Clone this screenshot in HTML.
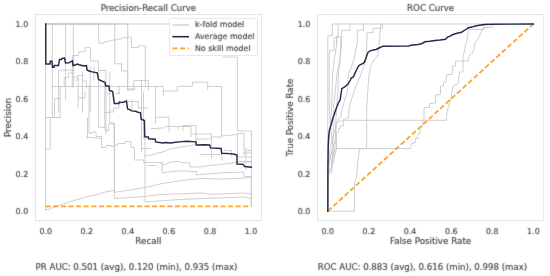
<!DOCTYPE html>
<html><head><meta charset="utf-8"><title>PR and ROC curves</title>
<style>html,body{margin:0;padding:0;background:#fff;width:550px;height:276px;overflow:hidden}svg{display:block}</style>
</head><body>
<svg width="550" height="276" viewBox="0 0 550 276" font-family="'DejaVu Sans', 'Liberation Sans', sans-serif"><defs><filter id="soft" x="0" y="0" width="550" height="276" filterUnits="userSpaceOnUse"><feConvolveMatrix order="3" kernelMatrix="0.02 0.08 0.02 0.08 0.60 0.08 0.02 0.08 0.02" edgeMode="duplicate" preserveAlpha="false"/></filter></defs><rect x="0" y="0" width="550" height="276" fill="#ffffff"/>
<polyline points="45.7,24.0 223.7,24.0 223.7,57.1 237.4,57.1 237.4,131.0 251.4,131.0 251.4,206.3" fill="none" stroke="#cacaca" stroke-width="0.9" stroke-linejoin="miter" stroke-linecap="square" />
<polyline points="45.7,24.0 45.7,210.5 46.0,209.5 50.0,209.3 53.0,207.5 55.0,206.8 58.0,206.0 60.0,205.0 63.0,204.0 66.0,203.0 69.0,202.0 72.0,201.2 74.0,200.2 78.0,199.5 81.0,198.5 84.0,197.8 87.0,196.8 90.0,196.0 93.0,195.5 97.0,194.5 105.0,192.0 114.3,190.3 114.3,192.3 130.0,190.0 145.0,187.5 150.0,186.5 160.0,184.0 175.0,181.5 185.0,180.0 203.0,178.5 220.0,179.0 245.0,178.0 251.4,177.5 251.4,206.3" fill="none" stroke="#cacaca" stroke-width="0.9" stroke-linejoin="miter" stroke-linecap="square" />
<polyline points="45.7,24.0 98.6,24.0 98.6,43.2 103.6,43.2 104.2,41.8 108.0,41.8 108.5,40.8 112.5,40.8 113.0,39.8 117.6,39.8 118.2,38.8 122.8,38.8 123.3,37.6 127.5,37.6 127.8,37.1 131.4,37.1 131.4,47.5 138.4,47.5 138.4,45.8 145.4,45.8 145.4,86.5 163.4,86.5 163.4,90.9 177.4,90.9 177.4,86.3 192.4,86.3 192.4,82.2 207.7,82.2 207.7,86.5 221.7,86.5 221.7,136.0 237.4,134.5 237.4,157.0 251.4,157.0" fill="none" stroke="#cacaca" stroke-width="0.9" stroke-linejoin="miter" stroke-linecap="square" />
<polyline points="45.7,24.0 114.8,24.0 114.8,63.8 121.5,63.8 121.5,71.0 127.6,71.0" fill="none" stroke="#cacaca" stroke-width="0.9" stroke-linejoin="miter" stroke-linecap="square" />
<polyline points="45.7,24.0 127.7,24.0 127.7,90.0 133.8,90.0 133.8,80.5 148.5,80.5 148.5,90.0" fill="none" stroke="#cacaca" stroke-width="0.9" stroke-linejoin="miter" stroke-linecap="square" />
<polyline points="45.7,24.0 52.3,24.0 52.3,117.5 45.7,117.5" fill="none" stroke="#cacaca" stroke-width="0.9" stroke-linejoin="miter" stroke-linecap="square" />
<polyline points="50.2,117.5 50.2,149.0 45.7,149.0" fill="none" stroke="#cacaca" stroke-width="0.9" stroke-linejoin="miter" stroke-linecap="square" />
<polyline points="45.7,24.0 65.6,24.0 65.6,99.0" fill="none" stroke="#cacaca" stroke-width="0.9" stroke-linejoin="miter" stroke-linecap="square" />
<polyline points="45.7,24.0 73.4,24.0 73.4,86.5 52.3,86.5" fill="none" stroke="#cacaca" stroke-width="0.9" stroke-linejoin="miter" stroke-linecap="square" />
<polyline points="73.4,86.5 90.0,86.5" fill="none" stroke="#cacaca" stroke-width="0.9" stroke-linejoin="miter" stroke-linecap="square" />
<polyline points="58.6,112.0 58.6,70.2 73.1,70.2" fill="none" stroke="#cacaca" stroke-width="0.9" stroke-linejoin="miter" stroke-linecap="square" />
<polyline points="64.2,86.5 64.2,77.5 68.5,77.5 68.5,73.0 74.0,73.0" fill="none" stroke="#cacaca" stroke-width="0.9" stroke-linejoin="miter" stroke-linecap="square" />
<polyline points="72.0,77.0 78.0,77.0 78.0,80.0 75.0,80.0" fill="none" stroke="#cacaca" stroke-width="0.9" stroke-linejoin="miter" stroke-linecap="square" />
<polyline points="77.5,75.5 83.0,75.5" fill="none" stroke="#cacaca" stroke-width="0.9" stroke-linejoin="miter" stroke-linecap="square" />
<polyline points="82.5,72.0 82.5,112.0" fill="none" stroke="#cacaca" stroke-width="0.9" stroke-linejoin="miter" stroke-linecap="square" />
<polyline points="83.0,81.0 86.5,81.0 86.5,88.0" fill="none" stroke="#cacaca" stroke-width="0.9" stroke-linejoin="miter" stroke-linecap="square" />
<polyline points="89.0,85.0 89.0,133.3 92.0,133.3 92.0,132.0 96.0,132.0 96.0,136.5 101.5,136.5" fill="none" stroke="#cacaca" stroke-width="0.9" stroke-linejoin="miter" stroke-linecap="square" />
<polyline points="87.5,118.0 87.5,138.0" fill="none" stroke="#cacaca" stroke-width="0.9" stroke-linejoin="miter" stroke-linecap="square" />
<polyline points="90.3,67.0 90.3,112.0" fill="none" stroke="#cacaca" stroke-width="0.9" stroke-linejoin="miter" stroke-linecap="square" />
<polyline points="94.0,67.4 94.0,80.0" fill="none" stroke="#cacaca" stroke-width="0.9" stroke-linejoin="miter" stroke-linecap="square" />
<polyline points="54.5,117.5 54.5,98.5 60.0,98.5" fill="none" stroke="#cacaca" stroke-width="0.9" stroke-linejoin="miter" stroke-linecap="square" />
<polyline points="52.3,117.5 60.0,117.5" fill="none" stroke="#cacaca" stroke-width="0.9" stroke-linejoin="miter" stroke-linecap="square" />
<polyline points="60.0,86.5 60.0,117.5" fill="none" stroke="#cacaca" stroke-width="0.9" stroke-linejoin="miter" stroke-linecap="square" />
<polyline points="78.2,77.0 78.2,107.0" fill="none" stroke="#cacaca" stroke-width="0.9" stroke-linejoin="miter" stroke-linecap="square" />
<polyline points="78.5,98.0 85.0,98.0 85.0,92.0" fill="none" stroke="#cacaca" stroke-width="0.9" stroke-linejoin="miter" stroke-linecap="square" />
<polyline points="72.3,88.0 72.3,55.5 78.6,55.5 78.6,51.8 85.0,51.8 85.0,47.6 90.5,47.6 90.5,61.0 98.6,61.0 98.6,127.3 105.3,127.3 105.3,130.6 108.6,130.6 108.6,124.0 114.1,124.0 114.1,150.0" fill="none" stroke="#cacaca" stroke-width="0.9" stroke-linejoin="miter" stroke-linecap="square" />
<polyline points="98.5,70.5 106.0,70.5 106.0,134.0" fill="none" stroke="#cacaca" stroke-width="0.9" stroke-linejoin="miter" stroke-linecap="square" />
<polyline points="104.7,80.0 104.7,127.0" fill="none" stroke="#cacaca" stroke-width="0.9" stroke-linejoin="miter" stroke-linecap="square" />
<polyline points="90.0,86.5 147.0,86.5" fill="none" stroke="#cacaca" stroke-width="0.9" stroke-linejoin="miter" stroke-linecap="square" />
<polyline points="127.6,71.0 127.6,90.0" fill="none" stroke="#cacaca" stroke-width="0.9" stroke-linejoin="miter" stroke-linecap="square" />
<polyline points="141.5,80.5 141.5,151.5" fill="none" stroke="#cacaca" stroke-width="0.9" stroke-linejoin="miter" stroke-linecap="square" />
<polyline points="119.0,86.5 119.0,94.0" fill="none" stroke="#cacaca" stroke-width="0.9" stroke-linejoin="miter" stroke-linecap="square" />
<polyline points="128.0,89.0 135.0,89.0" fill="none" stroke="#cacaca" stroke-width="0.9" stroke-linejoin="miter" stroke-linecap="square" />
<polyline points="109.8,72.0 109.8,123.0 114.5,123.0 114.5,190.0" fill="none" stroke="#cacaca" stroke-width="0.9" stroke-linejoin="miter" stroke-linecap="square" />
<polyline points="105.0,94.0 109.5,94.0" fill="none" stroke="#cacaca" stroke-width="0.9" stroke-linejoin="miter" stroke-linecap="square" />
<polyline points="116.0,93.5 119.5,93.5 119.5,92.0" fill="none" stroke="#cacaca" stroke-width="0.9" stroke-linejoin="miter" stroke-linecap="square" />
<polyline points="109.8,112.0 113.5,112.0 113.5,108.0 119.0,108.0 119.0,102.5" fill="none" stroke="#cacaca" stroke-width="0.9" stroke-linejoin="miter" stroke-linecap="square" />
<polyline points="105.0,112.5 109.8,112.5" fill="none" stroke="#cacaca" stroke-width="0.9" stroke-linejoin="miter" stroke-linecap="square" />
<polyline points="132.0,100.0 132.0,110.0" fill="none" stroke="#cacaca" stroke-width="0.9" stroke-linejoin="miter" stroke-linecap="square" />
<polyline points="128.0,101.5 138.3,101.5 138.3,108.0 147.0,108.0" fill="none" stroke="#cacaca" stroke-width="0.9" stroke-linejoin="miter" stroke-linecap="square" />
<polyline points="143.5,92.0 143.5,138.0" fill="none" stroke="#cacaca" stroke-width="0.9" stroke-linejoin="miter" stroke-linecap="square" />
<polyline points="101.5,138.0 101.5,147.5 106.0,147.5 106.0,145.5 111.0,145.5 111.0,146.5 115.0,146.5 115.0,145.0 118.0,145.0 118.0,143.5 125.0,143.5 125.0,141.5 131.0,141.5 131.0,147.5 134.5,147.5 134.5,160.0 143.5,160.0 143.5,162.5 162.0,162.5 162.0,164.5 166.0,164.5 168.0,163.0 172.0,162.0 176.0,161.5 180.0,161.5 181.0,162.5 190.0,163.0 190.0,167.0 200.0,167.0 210.0,165.5 220.0,164.5 233.0,163.0 238.0,161.5 251.4,162.0" fill="none" stroke="#cacaca" stroke-width="0.9" stroke-linejoin="miter" stroke-linecap="square" />
<polyline points="162.0,162.5 162.0,173.0 176.0,171.0 190.0,171.0 190.0,171.5 196.5,171.5 196.5,175.0 200.0,174.5 220.0,173.0 244.0,172.0 244.0,176.5 251.4,176.5" fill="none" stroke="#cacaca" stroke-width="0.9" stroke-linejoin="miter" stroke-linecap="square" />
<polyline points="148.0,165.5 155.5,165.5" fill="none" stroke="#cacaca" stroke-width="0.9" stroke-linejoin="miter" stroke-linecap="square" />
<polyline points="145.0,138.0 145.0,202.0 165.0,200.5 180.0,199.5 203.0,198.5 220.0,198.0 245.0,197.0 251.4,198.5 251.4,206.3" fill="none" stroke="#cacaca" stroke-width="0.9" stroke-linejoin="miter" stroke-linecap="square" />
<polyline points="114.3,150.0 114.3,198.5 130.0,197.5 145.0,196.5 160.0,194.5 190.0,193.5 203.0,193.0 210.0,194.3 245.0,193.0 251.4,194.0" fill="none" stroke="#cacaca" stroke-width="0.9" stroke-linejoin="miter" stroke-linecap="square" />
<polyline points="141.5,148.5 150.0,148.5" fill="none" stroke="#cacaca" stroke-width="0.9" stroke-linejoin="miter" stroke-linecap="square" />
<polyline points="145.0,155.5 152.0,155.0 156.0,153.3 162.5,152.2 168.7,149.5 175.0,148.0 181.0,147.0 189.5,145.6 196.8,144.6" fill="none" stroke="#cacaca" stroke-width="0.9" stroke-linejoin="miter" stroke-linecap="square" />
<polyline points="155.5,86.5 155.5,123.3" fill="none" stroke="#cacaca" stroke-width="0.9" stroke-linejoin="miter" stroke-linecap="square" />
<polyline points="155.3,117.3 169.0,117.3 169.0,131.0" fill="none" stroke="#cacaca" stroke-width="0.9" stroke-linejoin="miter" stroke-linecap="square" />
<polyline points="151.0,128.5 158.5,128.5 158.5,130.0" fill="none" stroke="#cacaca" stroke-width="0.9" stroke-linejoin="miter" stroke-linecap="square" />
<polyline points="158.5,128.0 164.0,128.0 165.5,126.5 191.0,126.5 191.0,136.5" fill="none" stroke="#cacaca" stroke-width="0.9" stroke-linejoin="miter" stroke-linecap="square" />
<polyline points="182.5,125.5 196.0,125.5 196.0,145.0" fill="none" stroke="#cacaca" stroke-width="0.9" stroke-linejoin="miter" stroke-linecap="square" />
<polyline points="178.0,126.5 178.0,129.5" fill="none" stroke="#cacaca" stroke-width="0.9" stroke-linejoin="miter" stroke-linecap="square" />
<polyline points="183.0,125.5 183.0,130.0" fill="none" stroke="#cacaca" stroke-width="0.9" stroke-linejoin="miter" stroke-linecap="square" />
<polyline points="192.0,134.0 211.5,134.0 211.5,157.5" fill="none" stroke="#cacaca" stroke-width="0.9" stroke-linejoin="miter" stroke-linecap="square" />
<polyline points="196.0,139.0 211.5,139.0" fill="none" stroke="#cacaca" stroke-width="0.9" stroke-linejoin="miter" stroke-linecap="square" />
<polyline points="211.0,137.0 221.7,137.0" fill="none" stroke="#cacaca" stroke-width="0.9" stroke-linejoin="miter" stroke-linecap="square" />
<polyline points="200.0,154.5 222.0,154.5 222.0,160.0" fill="none" stroke="#cacaca" stroke-width="0.9" stroke-linejoin="miter" stroke-linecap="square" />
<polyline points="224.0,150.5 231.5,150.5 231.5,156.0" fill="none" stroke="#cacaca" stroke-width="0.9" stroke-linejoin="miter" stroke-linecap="square" />
<polyline points="237.4,133.5 244.0,133.5 244.0,155.0" fill="none" stroke="#cacaca" stroke-width="0.9" stroke-linejoin="miter" stroke-linecap="square" />
<polyline points="246.0,148.0 246.0,170.0" fill="none" stroke="#cacaca" stroke-width="0.9" stroke-linejoin="miter" stroke-linecap="square" />
<polyline points="246.0,150.5 251.4,150.5" fill="none" stroke="#cacaca" stroke-width="0.9" stroke-linejoin="miter" stroke-linecap="square" />
<polyline points="244.0,153.0 251.4,153.0" fill="none" stroke="#cacaca" stroke-width="0.9" stroke-linejoin="miter" stroke-linecap="square" />
<polyline points="237.4,161.5 251.4,161.5" fill="none" stroke="#cacaca" stroke-width="0.9" stroke-linejoin="miter" stroke-linecap="square" />
<polyline points="86.5,137.0 101.4,138.7" fill="none" stroke="#cacaca" stroke-width="0.9" stroke-linejoin="miter" stroke-linecap="square" />
<polyline points="163.4,90.9 163.4,95.0" fill="none" stroke="#cacaca" stroke-width="0.9" stroke-linejoin="miter" stroke-linecap="square" />
<polyline points="207.7,86.5 207.7,90.0" fill="none" stroke="#cacaca" stroke-width="0.9" stroke-linejoin="miter" stroke-linecap="square" />
<polyline points="327.8,211.2 327.8,35.6 332.3,35.6 332.3,24.0 533.4,24.0" fill="none" stroke="#cacaca" stroke-width="0.9" stroke-linejoin="miter" stroke-linecap="square" />
<polyline points="327.8,211.2 327.8,173.0 331.8,173.0 331.8,160.0 333.0,150.0 330.0,120.0 329.2,100.0 329.1,61.0 329.4,50.6 334.1,50.6 334.1,37.5 338.1,37.5 338.1,24.0" fill="none" stroke="#cacaca" stroke-width="0.9" stroke-linejoin="miter" stroke-linecap="square" />
<polyline points="327.8,211.2 327.8,173.0 330.6,155.0 332.1,152.2 333.0,150.0 333.5,107.0 335.3,91.0 336.8,75.0 339.5,61.0 341.7,45.0 341.7,30.2 350.0,30.2 350.0,24.0" fill="none" stroke="#cacaca" stroke-width="0.9" stroke-linejoin="miter" stroke-linecap="square" />
<polyline points="327.8,211.2 327.8,173.0 331.6,168.0 332.1,160.3 333.2,153.2 334.7,150.1 335.0,148.6 335.5,135.0 336.0,124.0 338.0,120.0 340.5,117.0 342.7,107.0 347.5,91.0 348.2,75.0 353.6,61.0 355.5,52.0 357.3,43.0 357.3,30.2 363.5,30.2 363.5,24.0" fill="none" stroke="#cacaca" stroke-width="0.9" stroke-linejoin="miter" stroke-linecap="square" />
<polyline points="327.8,211.2 327.8,173.0 333.2,163.3 333.7,160.3 335.2,153.2 336.5,149.0 336.5,147.0 336.5,133.8 337.0,132.8 338.6,131.7 338.6,128.5 340.2,128.5 340.2,126.0 343.4,126.0 343.4,120.3 446.5,120.3 447.0,112.0 449.0,105.0 451.0,99.0 452.0,90.0 454.0,85.0 458.0,84.0 459.0,75.0 459.5,72.0 463.0,72.0 463.0,61.0 468.0,61.0 468.5,57.5 470.5,54.0 472.5,53.5 473.5,50.0 475.0,43.0 477.5,40.0 480.5,34.0 482.0,30.0 483.0,27.5 492.0,27.5 492.0,24.0" fill="none" stroke="#cacaca" stroke-width="0.9" stroke-linejoin="miter" stroke-linecap="square" />
<polyline points="327.8,211.2 327.8,173.0 331.8,168.0 333.0,158.0 334.0,153.0 335.0,148.6 366.6,148.6 366.7,107.0 367.8,91.0 368.9,75.0 371.0,65.0 374.0,59.5 376.4,57.3 378.0,55.0 379.8,38.0 380.2,28.4 382.6,28.4 382.6,24.0" fill="none" stroke="#cacaca" stroke-width="0.9" stroke-linejoin="miter" stroke-linecap="square" />
<polyline points="327.8,211.2 354.4,211.2 354.4,183.0 356.5,177.0 357.5,165.0 359.5,148.6 410.5,148.6 411.5,143.0 415.0,143.0 415.5,138.5 417.5,138.5 418.0,133.5 420.0,133.5 420.5,127.0 422.5,127.0 423.0,121.0 424.0,120.3 424.0,107.5 429.5,107.5 429.5,103.5 435.5,103.0 435.5,95.0 440.5,94.5 440.5,86.0 443.5,86.0 443.5,82.0 446.0,82.0 447.0,74.5 452.0,74.5 452.5,66.0 455.5,66.0 455.5,61.0 463.0,61.0 463.5,55.0 465.0,48.0 465.5,45.0 467.0,40.0 468.5,30.0 469.0,29.5 484.0,29.5 484.0,24.0" fill="none" stroke="#cacaca" stroke-width="0.9" stroke-linejoin="miter" stroke-linecap="square" />
<polyline points="327.8,211.2 327.8,170.0 332.0,150.0 335.8,140.0 336.0,124.0 338.0,122.0 340.0,121.5 345.5,118.5 348.6,118.0 349.2,107.0 354.2,91.0 360.7,75.0 365.9,61.0 366.7,45.0 367.0,32.7 373.2,32.7 373.2,28.4 380.5,28.4 380.5,24.0" fill="none" stroke="#cacaca" stroke-width="0.9" stroke-linejoin="miter" stroke-linecap="square" />
<polyline points="327.8,211.2 327.8,165.0 330.0,150.0 332.0,140.0 335.0,130.0 336.0,118.0 337.8,91.0 338.4,75.0 340.0,61.0 340.6,45.0 340.6,36.5 336.6,36.5 336.6,45.0" fill="none" stroke="#cacaca" stroke-width="0.9" stroke-linejoin="miter" stroke-linecap="square" />
<polyline points="327.8,211.2 327.8,160.0 329.0,140.0 331.5,110.0 332.6,75.0 334.0,61.0 336.6,45.0 336.6,36.5" fill="none" stroke="#cacaca" stroke-width="0.9" stroke-linejoin="miter" stroke-linecap="square" />
<line x1="45.7" y1="206.3" x2="251.1" y2="206.3" stroke="#f9a62c" stroke-width="1.8" stroke-dasharray="5.1 2.5"/>
<line x1="327.8" y1="211.2" x2="533.4" y2="23.9" stroke="#f9a62c" stroke-width="1.8" stroke-dasharray="5.1 2.5"/>
<polyline points="45.7,24.0 45.8,64.0 50.0,64.0 50.3,61.2 52.0,61.2 52.5,67.2 54.0,67.2 54.3,65.5 58.5,65.5 59.5,59.5 61.5,59.5 62.0,58.5 64.5,58.0 65.5,63.0 69.0,62.7 70.0,62.2 72.5,60.8 73.0,65.5 75.0,65.0 77.5,64.0 79.0,64.7 82.0,65.5 84.0,66.0 86.5,65.5 87.0,70.0 89.0,71.0 92.2,71.9 97.3,72.9 98.5,79.5 103.6,81.8 105.1,82.7 105.7,85.9 108.9,85.9 109.5,90.4 112.7,91.6 114.3,103.5 118.9,103.5 119.5,102.0 121.5,102.6 124.0,102.0 126.5,101.1 127.6,109.0 129.7,109.6 131.6,110.9 135.5,111.3 138.0,112.2 140.5,112.8 141.2,119.2 144.4,120.5 144.8,136.8 148.3,137.0 148.6,138.8 155.3,139.3 155.5,141.9 162.9,142.9 165.5,142.6 170.5,142.9 175.6,142.3 182.0,141.6 187.1,141.3 192.2,141.6 196.0,141.9 196.4,144.9 204.9,144.8 209.6,145.0 210.5,147.9 221.1,148.5 221.7,153.3 229.4,153.6 234.5,154.3 237.0,155.0 237.0,164.0 243.4,164.4 244.6,166.5 251.3,167.2" fill="none" stroke="#262a47" stroke-width="1.45" stroke-linejoin="miter" stroke-linecap="square" />
<polyline points="327.8,211.2 327.9,170.0 328.2,147.0 328.5,140.0 328.8,135.0 329.5,130.0 331.0,125.0 332.0,121.2 333.0,118.0 334.2,114.6 336.4,108.1 338.0,103.7 340.2,99.7 340.6,96.4 341.4,91.5 341.8,88.6 344.7,87.0 348.0,84.1 350.4,80.0 351.2,78.0 353.4,76.9 355.0,73.1 356.6,69.8 358.8,65.5 361.0,64.4 363.2,63.3 364.5,62.0 366.5,56.5 368.0,52.5 370.0,50.8 373.5,50.0 376.0,49.5 380.0,47.5 383.0,46.2 409.0,46.0 411.0,45.2 418.0,44.5 422.0,43.5 425.0,41.8 430.0,41.3 435.0,40.5 440.0,40.0 445.5,39.2 447.5,37.2 450.0,36.2 453.0,34.5 457.0,33.3 461.5,32.2 465.0,30.0 468.5,27.8 473.0,26.8 476.5,25.8 481.0,25.0 484.5,24.5 492.0,24.2 533.4,24.0" fill="none" stroke="#262a47" stroke-width="1.45" stroke-linejoin="miter" stroke-linecap="square" />
<rect x="35.40" y="14.50" width="226.00" height="206.10" fill="none" stroke="#e4e4e4" stroke-width="1"/>
<rect x="317.50" y="14.50" width="226.20" height="206.10" fill="none" stroke="#e4e4e4" stroke-width="1"/>
<rect x="169.4" y="18.4" width="88.0" height="37.1" rx="1.2" ry="1.2" fill="#ffffff" fill-opacity="1" stroke="#e4e4e4" stroke-width="0.9"/>
<line x1="172.4" y1="25.0" x2="189.0" y2="25.0" stroke="#cfcfcf" stroke-width="1.4"/>
<line x1="172.4" y1="36.7" x2="189.0" y2="36.7" stroke="#262a47" stroke-width="1.6"/>
<line x1="172.4" y1="48.3" x2="189.0" y2="48.3" stroke="#f9a62c" stroke-width="1.8" stroke-dasharray="5.1 2.5"/><g filter="url(#soft)" fill="#474747" stroke="#474747" stroke-width="0.18"><text x="195.0" y="27.0" font-size="7.9">k-fold model</text><text x="195.0" y="39.0" font-size="7.9">Average model</text><text x="195.0" y="50.7" font-size="7.9">No skill model</text><text x="148.4" y="10.7" font-size="8.65" text-anchor="middle">Precision-Recall Curve</text><text x="430.6" y="10.7" font-size="8.65" text-anchor="middle">ROC Curve</text><text x="148.4" y="244.4" font-size="8.75" text-anchor="middle">Recall</text><text x="430.6" y="244.4" font-size="8.75" text-anchor="middle">False Positive Rate</text><text transform="translate(10.9,117.5) rotate(-90)" font-size="8.75" text-anchor="middle">Precision</text><text transform="translate(293.3,117.5) rotate(-90)" font-size="8.75" text-anchor="middle">True Positive Rate</text><text x="45.7" y="233.5" font-size="7.95" text-anchor="middle">0.0</text><text x="327.8" y="233.5" font-size="7.95" text-anchor="middle">0.0</text><text x="28.2" y="214.3" font-size="7.95" text-anchor="end">0.0</text><text x="310.3" y="214.3" font-size="7.95" text-anchor="end">0.0</text><text x="86.8" y="233.5" font-size="7.95" text-anchor="middle">0.2</text><text x="368.9" y="233.5" font-size="7.95" text-anchor="middle">0.2</text><text x="28.2" y="176.9" font-size="7.95" text-anchor="end">0.2</text><text x="310.3" y="176.9" font-size="7.95" text-anchor="end">0.2</text><text x="127.9" y="233.5" font-size="7.95" text-anchor="middle">0.4</text><text x="410.0" y="233.5" font-size="7.95" text-anchor="middle">0.4</text><text x="28.2" y="139.4" font-size="7.95" text-anchor="end">0.4</text><text x="310.3" y="139.4" font-size="7.95" text-anchor="end">0.4</text><text x="168.9" y="233.5" font-size="7.95" text-anchor="middle">0.6</text><text x="451.2" y="233.5" font-size="7.95" text-anchor="middle">0.6</text><text x="28.2" y="101.9" font-size="7.95" text-anchor="end">0.6</text><text x="310.3" y="101.9" font-size="7.95" text-anchor="end">0.6</text><text x="210.0" y="233.5" font-size="7.95" text-anchor="middle">0.8</text><text x="492.3" y="233.5" font-size="7.95" text-anchor="middle">0.8</text><text x="28.2" y="64.4" font-size="7.95" text-anchor="end">0.8</text><text x="310.3" y="64.4" font-size="7.95" text-anchor="end">0.8</text><text x="251.1" y="233.5" font-size="7.95" text-anchor="middle">1.0</text><text x="533.4" y="233.5" font-size="7.95" text-anchor="middle">1.0</text><text x="28.2" y="27.0" font-size="7.95" text-anchor="end">1.0</text><text x="310.3" y="27.0" font-size="7.95" text-anchor="end">1.0</text><text x="35.6" y="270.4" font-size="8.62">PR AUC: 0.501 (avg), 0.120 (min), 0.935 (max)</text><text x="317.8" y="270.4" font-size="8.62">ROC AUC: 0.883 (avg), 0.616 (min), 0.998 (max)</text></g></svg>
</body></html>
